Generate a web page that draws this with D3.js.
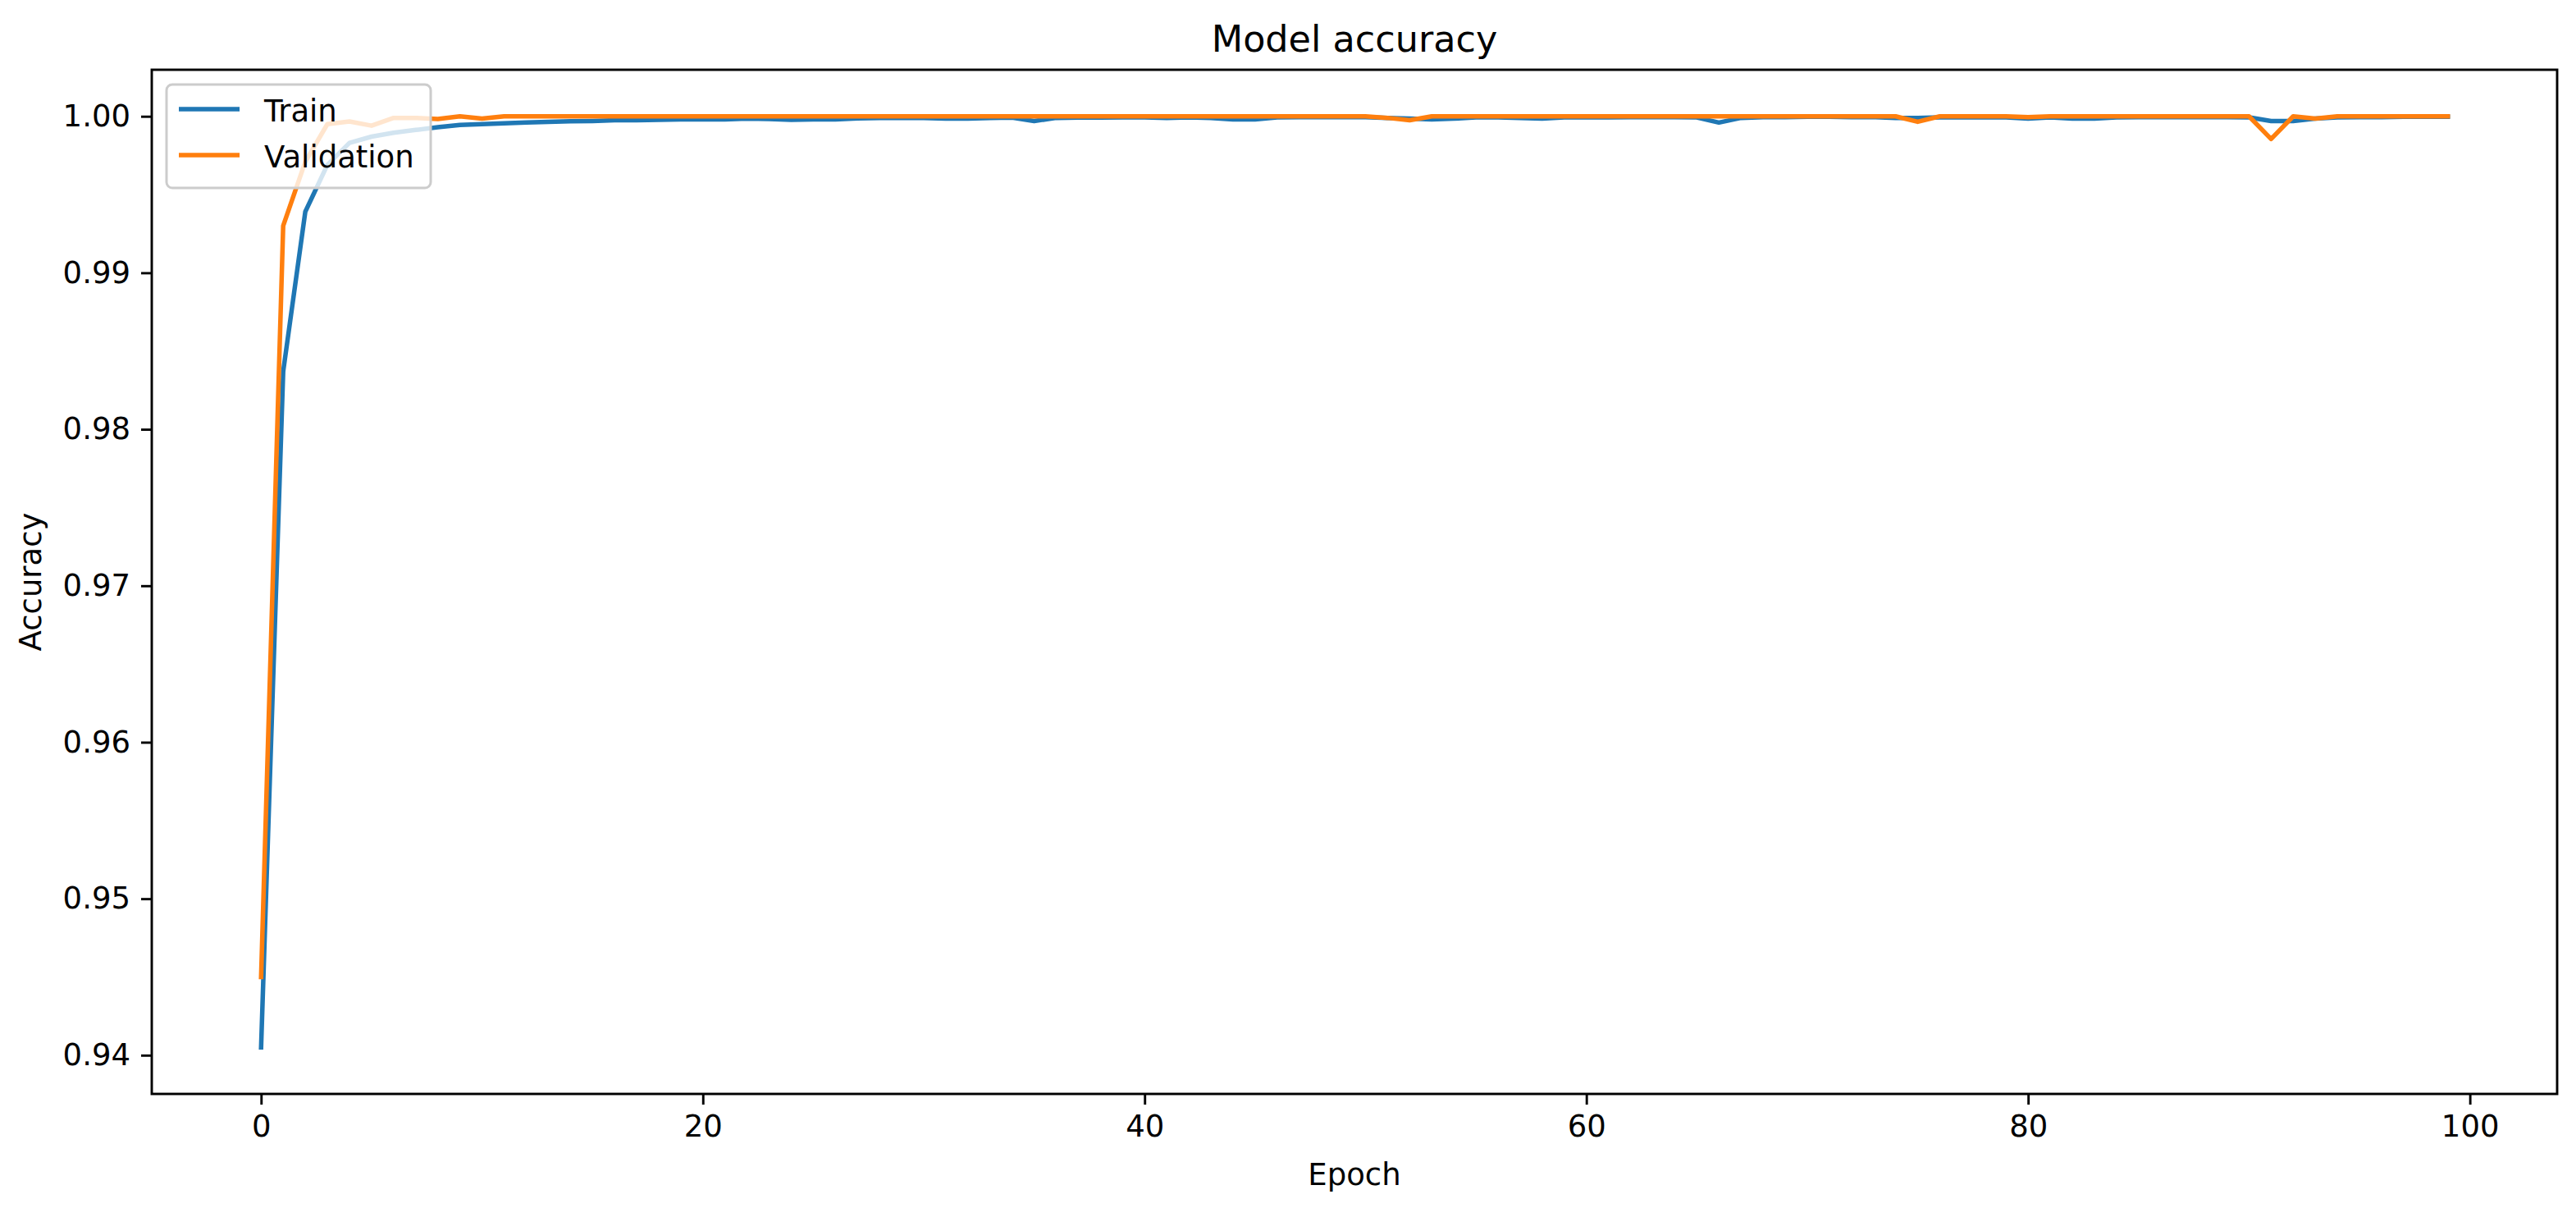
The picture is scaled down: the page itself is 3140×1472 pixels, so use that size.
<!DOCTYPE html>
<html>
<head>
<meta charset="utf-8">
<script src="https://cdn.jsdelivr.net/npm/d3@7"></script>
<style>
    body { margin: 0; background: #ffffff; }
    text { font-family: "DejaVu Sans", sans-serif; fill: #000000; }
</style>
</head>
<body>
<div id="drawing_region"></div>
<script>
// values
const epochs = d3.range(0, 100);

const trainAcc = [
    0.9405, 0.9837, 0.9939, 0.9969, 0.9983, 0.9987, 0.99895, 0.99913, 0.9993, 0.99945,
    0.9995, 0.99955, 0.9996, 0.99965, 0.99968, 0.9997, 0.99975, 0.99975, 0.99978, 0.9998,
    0.9998, 0.9998, 0.99985, 0.99983, 0.99978, 0.9998, 0.9998, 0.99987, 0.9999, 0.9999,
    0.9999, 0.99985, 0.99985, 0.9999, 0.99992, 0.9997, 0.9999, 0.99992, 0.99992, 0.99993,
    0.99993, 0.9999, 0.99993, 0.9999, 0.9998, 0.9998, 0.99993, 0.99995, 0.99995, 0.99995,
    0.99995, 0.9999, 0.99985, 0.9998, 0.99985, 0.99993, 0.99993, 0.9999, 0.99985, 0.99993,
    0.99993, 0.99993, 0.99995, 0.99995, 0.99995, 0.99993, 0.9996, 0.9999, 0.99995, 0.99995,
    0.99997, 0.99997, 0.99995, 0.99995, 0.9999, 0.9999, 0.99993, 0.99993, 0.99995, 0.99993,
    0.99985, 0.99993, 0.99985, 0.99985, 0.99993, 0.99995, 0.99995, 0.99995, 0.99995, 0.99995,
    0.99993, 0.9997, 0.9997, 0.99985, 0.99993, 0.99995, 0.99995, 0.99997, 0.99997, 0.99997
];

const valAcc = [
    0.945, 0.993, 0.9971, 0.9995, 0.99967, 0.9994, 0.9999, 0.9999, 0.99983, 1.0,
    0.99985, 1.0, 1.0, 1.0, 1.0, 1.0, 1.0, 1.0, 1.0, 1.0,
    1.0, 1.0, 1.0, 1.0, 1.0, 1.0, 1.0, 1.0, 1.0, 1.0,
    1.0, 1.0, 1.0, 1.0, 1.0, 1.0, 1.0, 1.0, 1.0, 1.0,
    1.0, 1.0, 1.0, 1.0, 1.0, 1.0, 1.0, 1.0, 1.0, 1.0,
    1.0, 0.9999, 0.99975, 1.0, 1.0, 1.0, 1.0, 1.0, 1.0, 1.0,
    1.0, 1.0, 1.0, 1.0, 1.0, 1.0, 1.0, 1.0, 1.0, 1.0,
    1.0, 1.0, 1.0, 1.0, 1.0, 0.99965, 1.0, 1.0, 1.0, 1.0,
    0.99995, 1.0, 1.0, 1.0, 1.0, 1.0, 1.0, 1.0, 1.0, 1.0,
    1.0, 0.99855, 1.0, 0.99985, 1.0, 1.0, 1.0, 1.0, 1.0, 1.0
];

const seriesNames = ["Train", "Validation"];
const seriesColors = ["#1f77b4", "#ff7f0e"];
const xTicks = [0, 20, 40, 60, 80, 100];
const yTicks = [0.94, 0.95, 0.96, 0.97, 0.98, 0.99, 1.00];

class LineChart {
    constructor(selector) {
        this.width = 3140;
        this.height = 1472;
        this.margin = { top: 85, right: 23, bottom: 139, left: 185 };

        this.svg = d3.select(selector).append("svg")
            .attr("width", this.width)
            .attr("height", this.height);

        this.svg.append("rect")
            .attr("width", this.width)
            .attr("height", this.height)
            .attr("fill", "#ffffff");

        this.chart = this.svg.append("g")
            .attr("transform", `translate(${this.margin.left}, ${this.margin.top})`);

        this.inner_width = this.width - this.margin.left - this.margin.right;
        this.inner_height = this.height - this.margin.top - this.margin.bottom;

        this.xscale = d3.scaleLinear().range([0, this.inner_width]);
        this.yscale = d3.scaleLinear().range([this.inner_height, 0]);

        this.xaxis = d3.axisBottom(this.xscale).tickValues(xTicks)
            .tickSize(13).tickPadding(13).tickSizeOuter(0);
        this.yaxis = d3.axisLeft(this.yscale).tickValues(yTicks)
            .tickFormat(d3.format(".2f"))
            .tickSize(13).tickPadding(13).tickSizeOuter(0);
    }

    update() {
        // matplotlib style 5% margins
        const xpad = (d3.max(epochs) - d3.min(epochs)) * 0.05;
        this.xscale.domain([d3.min(epochs) - xpad, d3.max(epochs) + xpad]);
        const allVals = trainAcc.concat(valAcc);
        const ypad = (d3.max(allVals) - d3.min(allVals)) * 0.05;
        this.yscale.domain([d3.min(allVals) - ypad, d3.max(allVals) + ypad]);

        this.data = [trainAcc, valAcc].map((vals, i) => ({
            name: seriesNames[i],
            color: seriesColors[i],
            values: vals.map((v, j) => ({ epoch: epochs[j], acc: v }))
        }));
    }

    render() {
        this.svg.append("defs").append("clipPath").attr("id", "clip")
            .append("rect")
            .attr("width", this.inner_width)
            .attr("height", this.inner_height);

        const line = d3.line()
            .x(d => this.xscale(d.epoch))
            .y(d => this.yscale(d.acc));

        this.chart.append("g").attr("clip-path", "url(#clip)")
            .selectAll("path").data(this.data).enter().append("path")
            .attr("d", d => line(d.values))
            .attr("fill", "none")
            .attr("stroke", d => d.color)
            .attr("stroke-width", 5.5)
            .attr("stroke-linejoin", "round")
            .attr("stroke-linecap", "square");

        const xg = this.chart.append("g")
            .attr("transform", `translate(0, ${this.inner_height})`)
            .call(this.xaxis);
        const yg = this.chart.append("g").call(this.yaxis);

        [xg, yg].forEach(g => {
            g.select(".domain").remove();
            g.selectAll(".tick line").attr("stroke", "#000").attr("stroke-width", 2.9);
            g.selectAll(".tick text").attr("font-size", 37).attr("font-family", "DejaVu Sans");
        });

        // frame
        this.chart.append("rect")
            .attr("width", this.inner_width)
            .attr("height", this.inner_height)
            .attr("fill", "none")
            .attr("stroke", "#000")
            .attr("stroke-width", 2.9);

        // title and labels
        this.svg.append("text")
            .attr("x", this.margin.left + this.inner_width / 2)
            .attr("y", 63)
            .attr("text-anchor", "middle")
            .attr("font-size", 44.5)
            .text("Model accuracy");

        this.svg.append("text")
            .attr("x", this.margin.left + this.inner_width / 2)
            .attr("y", 1444)
            .attr("text-anchor", "middle")
            .attr("font-size", 37)
            .text("Epoch");

        this.svg.append("text")
            .attr("transform", `translate(50, ${this.margin.top + this.inner_height / 2}) rotate(-90)`)
            .attr("text-anchor", "middle")
            .attr("font-size", 37)
            .text("Accuracy");

        // legend, upper left
        const legend = this.chart.append("g").attr("transform", "translate(18, 18)");
        legend.append("rect")
            .attr("width", 322)
            .attr("height", 126)
            .attr("rx", 7)
            .attr("fill", "#ffffff")
            .attr("fill-opacity", 0.8)
            .attr("stroke", "#cccccc")
            .attr("stroke-width", 3);

        const items = legend.selectAll(".item").data(this.data).enter().append("g")
            .attr("transform", (d, i) => `translate(0, ${30 + i * 56})`);
        items.append("line")
            .attr("x1", 15).attr("x2", 89)
            .attr("stroke", d => d.color)
            .attr("stroke-width", 5.5);
        items.append("text")
            .attr("x", 119)
            .attr("y", 15)
            .attr("font-size", 37)
            .text(d => d.name);
    }
}

const chart = new LineChart("#drawing_region");
chart.update();
chart.render();
</script>
</body>
</html>
